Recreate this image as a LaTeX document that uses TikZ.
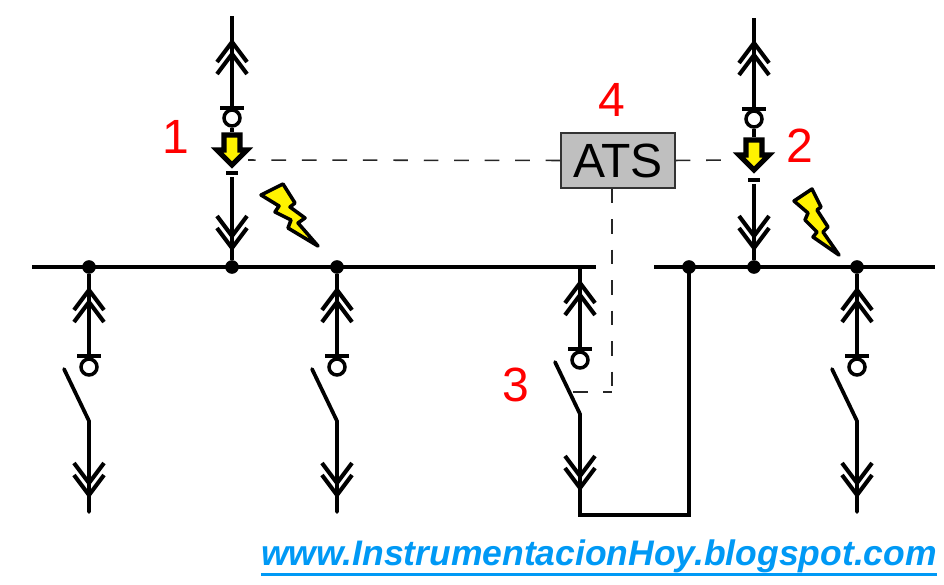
\documentclass[tikz,border=0pt]{standalone}
\usepackage{fontspec}
\setmainfont{Liberation Sans}
\begin{document}
\begin{tikzpicture}[x=0.03cm,y=-0.03cm,
    wire/.style={draw=black,line width=3.5pt},
    thinwire/.style={draw=black,line width=3.2pt},
    ctrl/.style={draw=black!85,line width=1.3pt,dash pattern=on 12.5pt off 13.5pt},
    busdot/.style={circle,fill=black,inner sep=0pt,minimum size=4.1mm},
    ring/.style={circle,draw=black,fill=white,line width=3pt,inner sep=0pt,minimum size=4.8mm},
    bar/.style={rectangle,fill=black,inner sep=0pt,minimum width=7.4mm,minimum height=1mm},
    lowbar/.style={rectangle,fill=black,inner sep=0pt,minimum width=3.6mm,minimum height=1.1mm},
    number/.style={text=red,font=\fontsize{41}{41}\selectfont,inner sep=0pt},
    bolt/.style={draw=black,fill=yellow,line width=3pt,line join=round},
    pics/chevrons/.style={code={
      \draw[wire] (-15,20) -- (0,0) -- (15,20);
      \draw[wire] (-15,32) -- (0,12) -- (15,32);
    }},
    pics/tripdown/.style={code={
      \draw[draw=black,fill=yellow,line width=4.4pt,miter limit=10]
        (-8,3) -- (8,3) -- (8,18) -- (15,18) -- (0,33) -- (-15,18) -- (-8,18) -- cycle;
    }}]
  \useasboundingbox (0,0) rectangle (944,585);

  \coordinate (busAstart) at (32,267);
  \coordinate (busAend) at (596,267);
  \coordinate (busBstart) at (654,267);
  \coordinate (busBend) at (935,267);
  \draw[wire] (busAstart) -- (busAend);
  \draw[wire] (busBstart) -- (busBend);

  \node[busdot] (dota) at (89,267) {};
  \node[busdot] (dotb) at (337,267) {};
  \node[busdot] (dotc) at (857,267) {};
  \node[busdot] (dots1) at (232,267) {};
  \node[busdot] (dots2) at (754,267) {};
  \node[busdot] (dotr) at (689,267) {};
  \coordinate (dotd) at (580,267);

  \foreach \x/\n/\dy/\arr/\low/\top in {232/1/0/132/173/16,754/2/1/137/180/18}{
    \coordinate (top\n) at (\x,\top);
    \node[bar] (bar\n) at (\x,108+\dy) {};
    \node[ring] (ring\n) at (\x,118+\dy) {};
    \coordinate (trip\n) at (\x,\arr);
    \node[lowbar] (low\n) at (\x,\low) {};
    \coordinate (below\n) at (\x,\low+4);
    \draw[thinwire] (top\n) -- (bar\n);
    \draw[thinwire] (ring\n) -- (trip\n);
    \draw[thinwire] (below\n) -- (dots\n);
    \pic at (\x,42+\dy) {chevrons};
    \pic[yscale=-1] at (\x,248) {chevrons};
    \pic at (trip\n) {tripdown};
  }

  \foreach \x/\n/\dy/\e in {89/a/0/512,337/b/0/512,857/c/0/512,580/d/-7/515}{
    \coordinate (end\n) at (\x,\e);
    \begin{scope}[shift={(\x,\dy)}]
      \node[bar] (bar\n) at (0,356) {};
      \node[ring] (ring\n) at (0,367) {};
      \coordinate (blade\n) at (-25,369);
      \coordinate (pivot\n) at (0,421);
      \pic at (0,290) {chevrons};
      \pic[yscale=-1] at (0,495) {chevrons};
    \end{scope}
    \draw[thinwire] (dot\n) -- (bar\n);
    \draw[thinwire,line cap=round] (blade\n) -- (pivot\n) -- (end\n);
  }

  \coordinate (cornerd) at (689,515);
  \draw[wire,line cap=rect] (endd) -- (cornerd) -- (dotr);

  \node[draw=black!80,fill=black!25,line width=1.3pt,minimum width=3.42cm,minimum height=1.65cm,inner sep=0pt,
    font=\fontsize{41}{41}\selectfont] (ats) at (618,160.5) {ATS};
  \coordinate (arrowl) at (248,160);
  \coordinate (arrowr) at (736,160);
  \coordinate (tripbend) at (612,392);
  \coordinate (tripblade) at (573,392);
  \draw[ctrl] (ats.west) -- (arrowl);
  \draw[ctrl] (ats.east) -- (arrowr);
  \draw[ctrl] (ats.south -| tripbend) -- (tripbend);
  \draw[ctrl] (tripblade) -- (tripbend);

  \node[number] (num1) at (176,137) {1};
  \node[number] (num2) at (800,146) {2};
  \node[number] (num3) at (516,385) {3};
  \node[number] (num4) at (612,100) {4};

  \draw[bolt] (261,195) -- (283,184) -- (295,203) -- (290,207) -- (305,218) -- (298,223) -- (318,246)
    -- (288,228) -- (291,220) -- (275,212) -- (279,206) -- cycle;
  \draw[bolt] (794,201) -- (812,189) -- (821,207) -- (817,210) -- (828,227) -- (823,232) -- (839,255)
    -- (813,237) -- (817,232) -- (805,220) -- (808,213) -- cycle;

  \node[text={rgb,255:red,0;green,153;blue,245},font=\fontsize{30.3}{30.3}\selectfont\bfseries\itshape,inner sep=0pt]
    (url) at (599,556) {www.InstrumentacionHoy.blogspot.com};
  \draw[draw={rgb,255:red,0;green,153;blue,245},line width=2.8pt] (url.south west) ++(0,1.5) coordinate (ulstart)
    (url.south east) ++(0,1.5) coordinate (ulend) (ulstart) -- (ulend);
\end{tikzpicture}
\end{document}
